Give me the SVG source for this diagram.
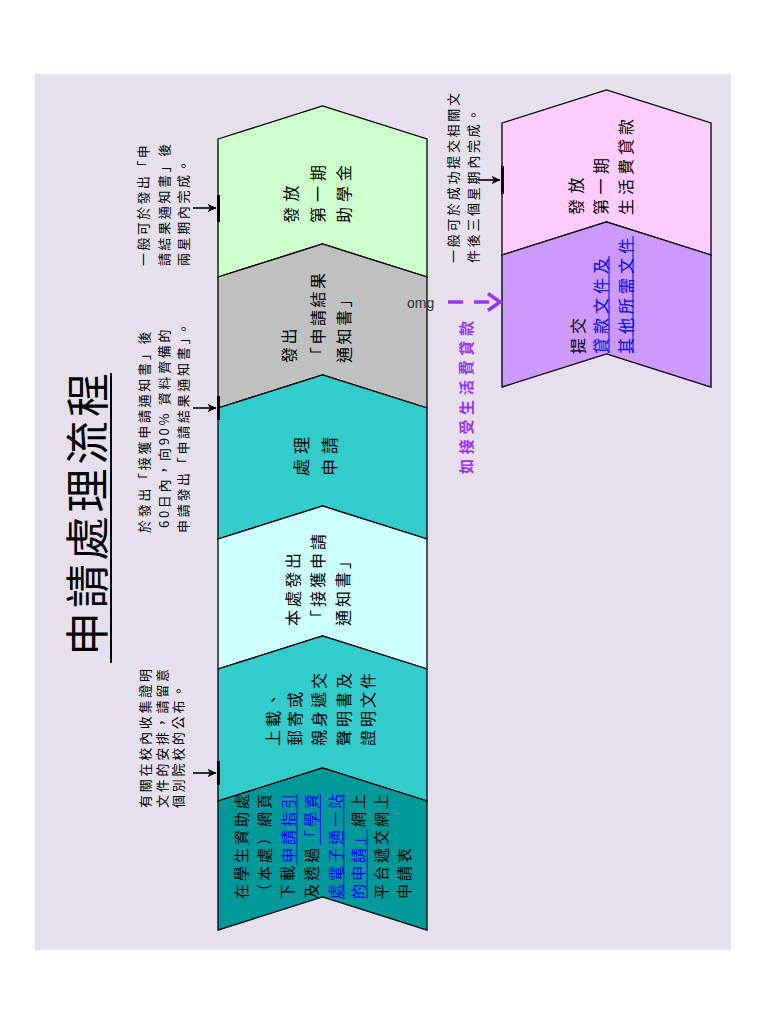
<svg xmlns="http://www.w3.org/2000/svg" width="768" height="1024" viewBox="0 0 768 1024">
<style>
.cv{stroke:#000;stroke-width:1.3;stroke-linejoin:miter}
.t{font-family:"Noto Sans CJK TC","Noto Sans CJK SC",sans-serif;dominant-baseline:central;fill:#000}
.a13{font-size:13px;letter-spacing:2.7px}
.b{font-size:16px}
.lk{fill:#0000FF}
.ul{stroke:#0000FF;stroke-width:1}
.arr{stroke:#000;stroke-width:1.6;fill:none}
.tick{stroke:#000;stroke-width:3}
</style>
<defs>
<marker id="ah" markerWidth="10" markerHeight="10" refX="8.5" refY="5" orient="auto" markerUnits="userSpaceOnUse">
<path d="M0,0.8 L9,5 L0,9.2 L2.5,5 z" fill="#000"/>
</marker>
</defs>
<rect x="35" y="74" width="696" height="876" fill="#E6E0EC"/>

<g id="title">
<g transform="translate(85,656) rotate(-90)">
<text class="t" x="0" y="0" style="font-size:44px;letter-spacing:3.8px">申請處理流程</text>
</g>
<line x1="111" y1="373" x2="111" y2="663" stroke="#000" stroke-width="2"/>
</g>

<g id="step6">
<polygon class="cv" fill="#CCFFCC" points="218,139 322.5,106 427,139 427,277 322.5,244 218,277"/>
<g transform="translate(290,223) rotate(-90)">
<text class="t b" x="0" y="0" style="letter-spacing:5.5px">發放</text>
<text class="t b" x="0" y="27" style="letter-spacing:5px">第一期</text>
<text class="t b" x="0" y="53" style="letter-spacing:5px">助學金</text>
</g>
</g>

<g id="step5">
<polygon class="cv" fill="#C0C0C0" points="218,277 322.5,244 427,277 427,408 322.5,375 218,408"/>
<g transform="translate(288,363) rotate(-90)">
<text class="t b" x="0" y="0" style="letter-spacing:2.5px">發出</text>
<text class="t b" x="0" y="29" style="letter-spacing:2.5px">「申請結果</text>
<text class="t b" x="0" y="55" style="letter-spacing:2.5px">通知書」</text>
</g>
</g>

<g id="step4">
<polygon class="cv" fill="#33CCCC" points="218,408 322.5,375 427,408 427,539 322.5,506 218,539"/>
<g transform="translate(300,476) rotate(-90)">
<text class="t" x="0" y="0" style="font-size:17px;letter-spacing:5px">處理</text>
<text class="t" x="0" y="28" style="font-size:17px;letter-spacing:5px">申請</text>
</g>
</g>

<g id="step3">
<polygon class="cv" fill="#CCFFFF" points="218,539 322.5,506 427,539 427,669 322.5,636 218,669"/>
<g transform="translate(292,626) rotate(-90)">
<text class="t b" x="0" y="0" style="letter-spacing:3px">本處發出</text>
<text class="t b" x="0" y="25" style="letter-spacing:3px">「接獲申請</text>
<text class="t b" x="0" y="50" style="letter-spacing:3px">通知書」</text>
</g>
</g>

<g id="step2">
<polygon class="cv" fill="#33CCCC" points="218,669 322.5,636 427,669 427,801 322.5,768 218,801"/>
<g transform="translate(272,746) rotate(-90)">
<text class="t b" x="0" y="0" style="letter-spacing:3px">上載、</text>
<text class="t b" x="0" y="22" style="letter-spacing:3px">郵寄或</text>
<text class="t b" x="0" y="45.5" style="letter-spacing:3px">親身遞交</text>
<text class="t b" x="0" y="70.5" style="letter-spacing:3px">聲明書及</text>
<text class="t b" x="0" y="95" style="letter-spacing:3px">證明文件</text>
</g>
</g>

<g id="step1">
<polygon class="cv" fill="#009999" points="218,801 322.5,768 427,801 427,930 322.5,897 218,930"/>
<g transform="translate(240,899) rotate(-90)">
<text class="t" x="0" y="0" style="font-size:15px;letter-spacing:3px">在學生資助處</text>
<text class="t" x="0" y="23.4" style="font-size:15px;letter-spacing:3px">（本處）網頁</text>
<text class="t" x="0" y="46.8" style="font-size:15px;letter-spacing:3px">下載<tspan class="lk">申請指引</tspan></text>
<text class="t" x="0" y="70.2" style="font-size:15px;letter-spacing:3px">及透過<tspan class="lk">「學資</tspan></text>
<text class="t" x="0" y="93.6" style="font-size:15px;letter-spacing:3px"><tspan class="lk">處電子通一站</tspan></text>
<text class="t" x="0" y="117" style="font-size:15px;letter-spacing:3px"><tspan class="lk">的申請」</tspan>網上</text>
<text class="t" x="0" y="140.4" style="font-size:15px;letter-spacing:3px">平台遞交網上</text>
<text class="t" x="0" y="163.8" style="font-size:15px;letter-spacing:3px">申請表</text>
<line class="ul" x1="34" y1="57" x2="105" y2="57"/>
<line class="ul" x1="54" y1="80.4" x2="105" y2="80.4"/>
<line class="ul" x1="0" y1="103.8" x2="105" y2="103.8"/>
<line class="ul" x1="0" y1="127.2" x2="69" y2="127.2"/>
</g>
</g>

<g id="pink">
<polygon class="cv" fill="#FFCCFF" points="502,123 606.5,90 711,123 711,255 606.5,222 502,255"/>
<g transform="translate(575,215) rotate(-90)">
<text class="t b" x="0" y="0" style="letter-spacing:5.5px">發放</text>
<text class="t b" x="0" y="25" style="letter-spacing:4.5px">第一期</text>
<text class="t b" x="0" y="50" style="letter-spacing:4px">生活費貸款</text>
</g>
</g>

<g id="purple">
<polygon class="cv" fill="#CC99FF" points="502,255 606.5,222 711,255 711,387 606.5,354 502,387"/>
<g transform="translate(577,354) rotate(-90)">
<text class="t b" x="0" y="0" style="letter-spacing:4px">提交</text>
<text class="t b lk" x="0" y="23" style="letter-spacing:4px">貸款文件及</text>
<text class="t b lk" x="0" y="48" style="letter-spacing:4px">其他所需文件</text>
<line class="ul" x1="1" y1="32" x2="98" y2="32"/>
<line class="ul" x1="1" y1="56" x2="118" y2="56"/>
</g>
</g>

<g id="note1">
<g transform="translate(144,808) rotate(-90)">
<text class="t a13" x="0" y="0" style="letter-spacing:2.75px">有關在校內收集證明</text>
<text class="t a13" x="0" y="17" style="letter-spacing:2.75px">文件的安排，請留意</text>
<text class="t a13" x="0" y="33.5" style="letter-spacing:2.75px">個別院校的公布。</text>
</g>
</g>

<g id="note2">
<g transform="translate(143,533) rotate(-90)">
<text class="t a13" x="0" y="0">於發出「接獲申請通知書」後</text>
<text class="t a13" x="5" y="20">60日內，向90% 資料齊備的</text>
<text class="t a13" x="0" y="39.5">申請發出「申請結果通知書」。</text>
</g>
</g>

<g id="note3">
<g transform="translate(142,266) rotate(-90)">
<text class="t a13" x="0" y="0" style="letter-spacing:2.4px">一般可於發出「申</text>
<text class="t a13" x="0" y="21" style="letter-spacing:2.6px">請結果通知書」後</text>
<text class="t a13" x="0" y="40" style="letter-spacing:2.6px">兩星期內完成。</text>
</g>
</g>

<g id="note4">
<g transform="translate(452,263) rotate(-90)">
<text class="t a13" x="0" y="0">一般可於成功提交相關文</text>
<text class="t a13" x="0" y="20">件後三個星期內完成。</text>
</g>
</g>

<g id="loanLabel">
<g transform="translate(465,474) rotate(-90)">
<text class="t" x="0" y="0" style="font-size:15px;font-weight:bold;letter-spacing:4.7px;fill:#9933FF">如接受生活費貸款</text>
</g>
</g>

<g id="connectors">
<line class="arr" x1="193" y1="773" x2="216" y2="773" marker-end="url(#ah)"/>
<line class="tick" x1="218.5" y1="761" x2="218.5" y2="785"/>
<line class="arr" x1="193" y1="408" x2="216" y2="408" marker-end="url(#ah)"/>
<line class="tick" x1="218.5" y1="396" x2="218.5" y2="420"/>
<line class="arr" x1="193" y1="208" x2="216" y2="208" marker-end="url(#ah)"/>
<line class="tick" x1="218.5" y1="195" x2="218.5" y2="222"/>
<line class="arr" x1="478" y1="180" x2="500" y2="180" marker-end="url(#ah)"/>
<line class="tick" x1="502.5" y1="166" x2="502.5" y2="194"/>
<line x1="448" y1="302" x2="490" y2="302" stroke="#9933FF" stroke-width="3.5" stroke-dasharray="15 11"/>
<polyline points="488,293.5 500,302 488,310.5" fill="none" stroke="#9933FF" stroke-width="3.5"/>
<text x="407" y="307.5" style="font-family:'Liberation Sans',Arial,sans-serif;font-size:14px;fill:#333">omg</text>
</g>
</svg>
